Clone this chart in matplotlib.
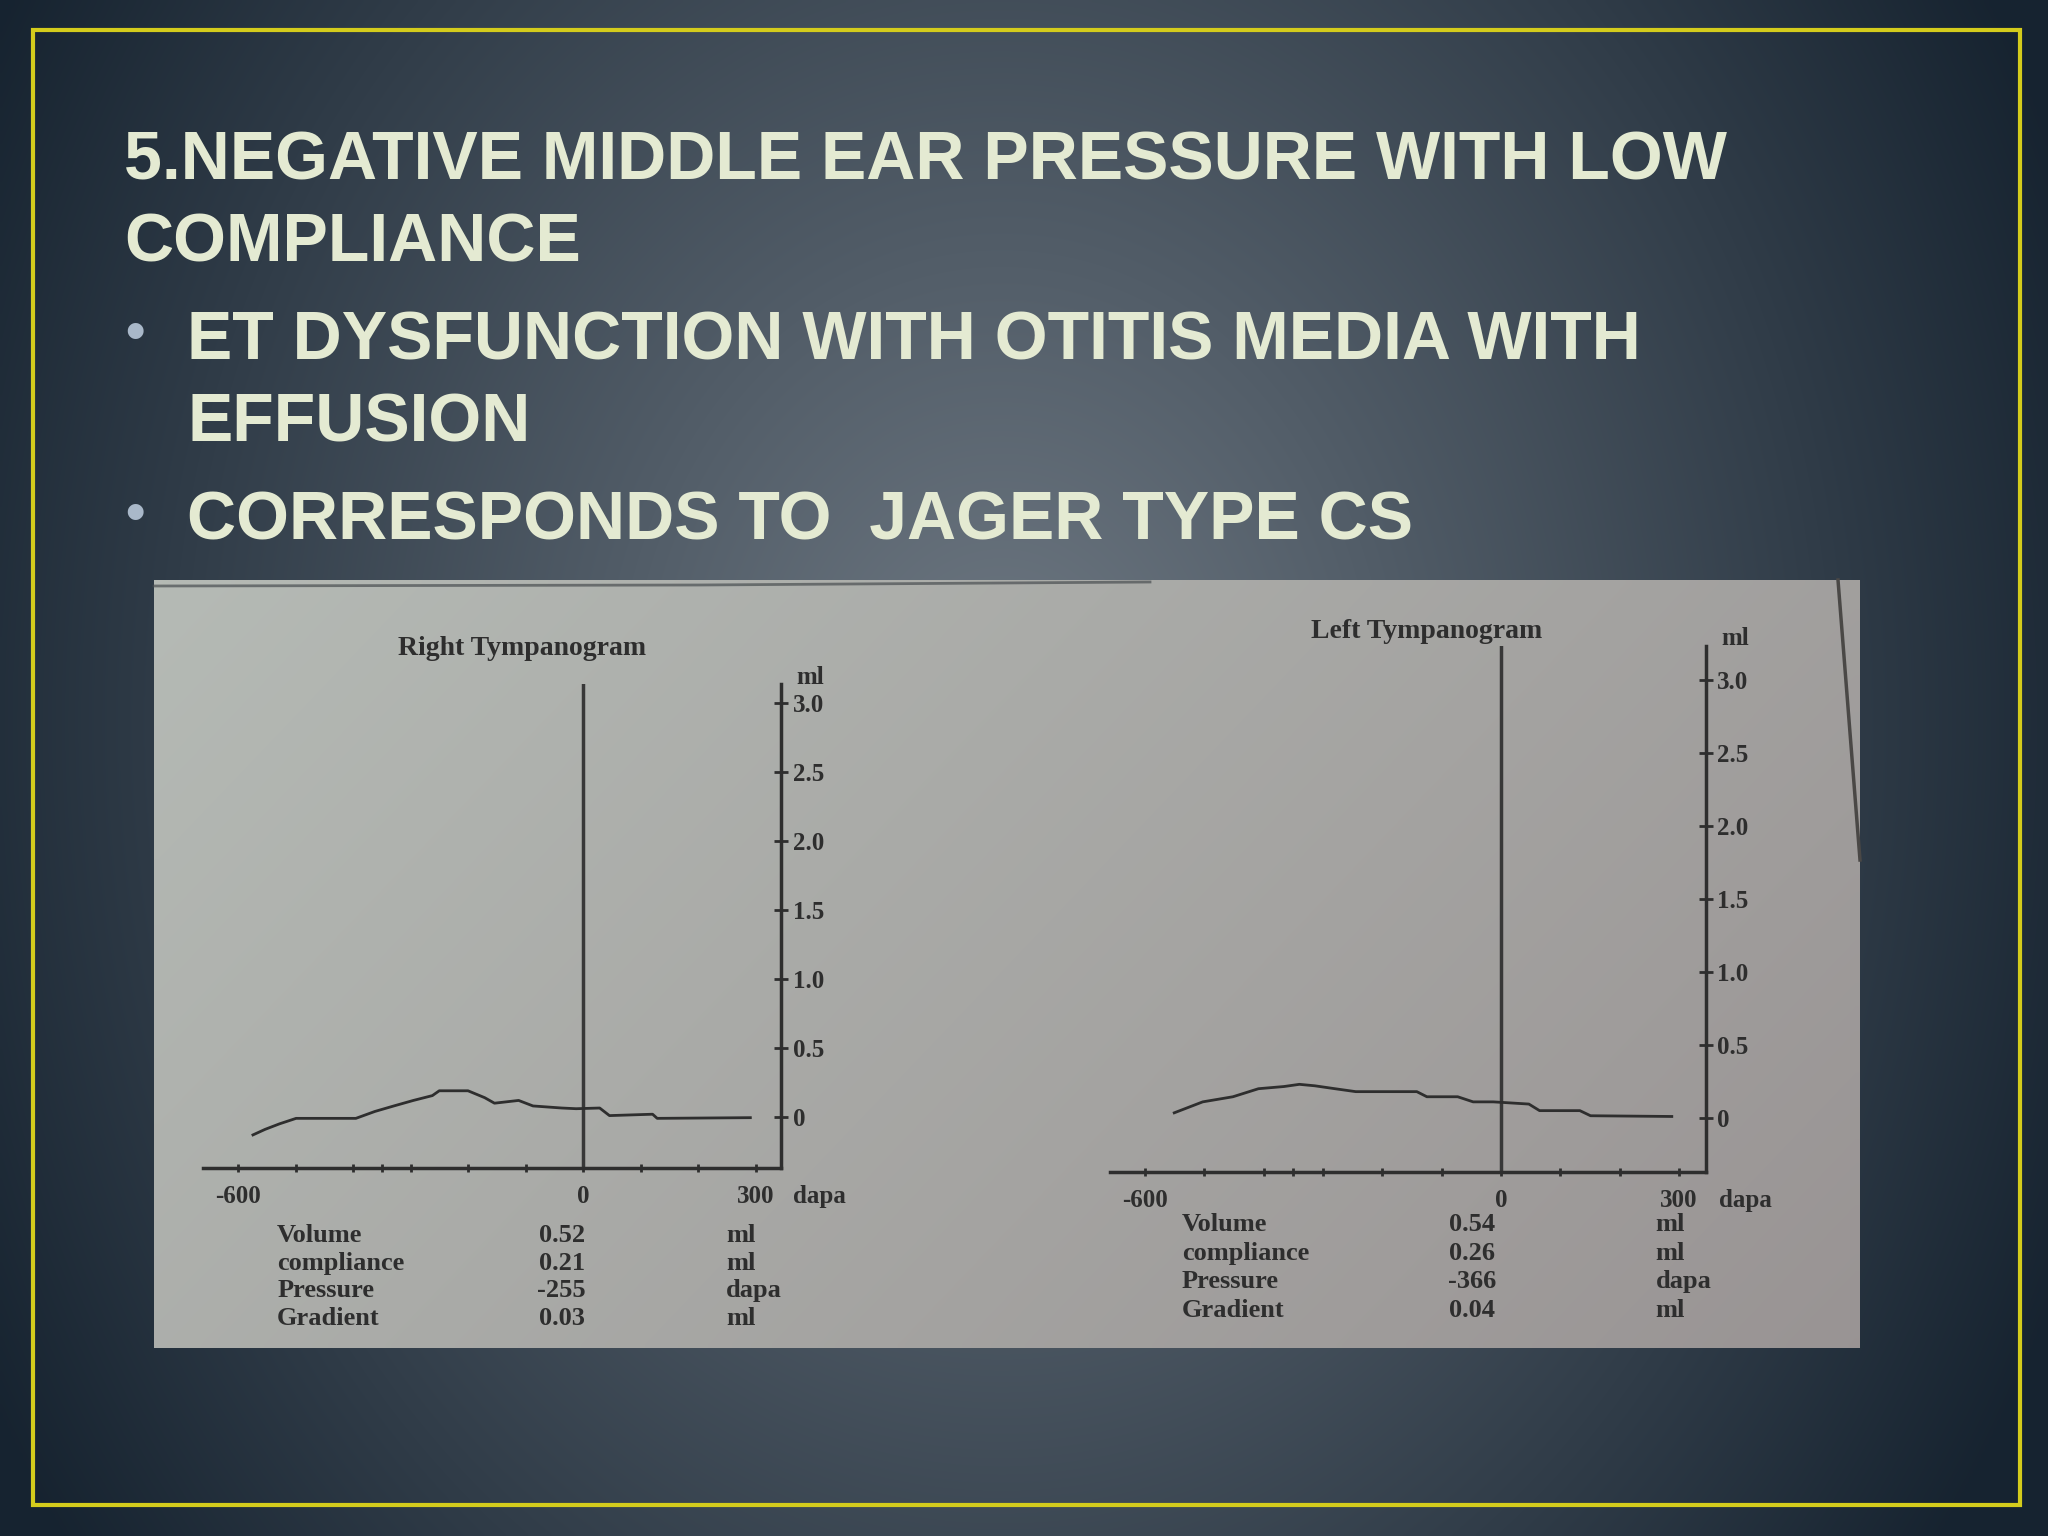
import matplotlib.pyplot as plt
import numpy as np
from matplotlib.patches import Rectangle

W, H = 2048, 1536

# slide text
heading = ["5.NEGATIVE MIDDLE EAR PRESSURE WITH LOW", "COMPLIANCE"]
bullets = [["ET DYSFUNCTION WITH OTITIS MEDIA WITH", "EFFUSION"],
           ["CORRESPONDS TO  JAGER TYPE CS"]]

# tympanogram axes
x_ticks = [-600, -500, -400, -350, -300, -200, -100, 0, 100, 200, 300]
x_named = {-600: "-600", 0: "0", 300: "300"}
y_ticks = [0, 0.5, 1.0, 1.5, 2.0, 2.5, 3.0]
y_labels = ["0", "0.5", "1.0", "1.5", "2.0", "2.5", "3.0"]

# traces (pressure daPa, compliance ml)
right_p = [-574, -553, -528, -499, -395, -362, -329, -295, -262, -250, -200,
           -171, -154, -112, -87, -37, -12, 29, 46, 121, 129, 291]
right_c = [-0.13, -0.09, -0.05, -0.01, -0.01, 0.04, 0.08, 0.12, 0.155, 0.19, 0.19,
           0.14, 0.10, 0.12, 0.08, 0.065, 0.06, 0.065, 0.01, 0.02, -0.01, -0.005]
left_p = [-551, -503, -452, -409, -366, -340, -314, -280, -245, -194, -142,
          -125, -73, -47, -13, 47, 65, 133, 151, 288]
left_c = [0.035, 0.11, 0.145, 0.20, 0.215, 0.23, 0.22, 0.20, 0.18, 0.18, 0.18,
          0.145, 0.145, 0.11, 0.11, 0.095, 0.05, 0.05, 0.015, 0.01]

row_names = ["Volume", "compliance", "Pressure", "Gradient"]
row_units = ["ml", "ml", "dapa", "ml"]
right_vals = ["0.52", "0.21", "-255", "0.03"]
left_vals = ["0.54", "0.26", "-366", "0.04"]

plt.rcParams['font.family'] = ['Liberation Serif', 'DejaVu Serif']
plt.rcParams['font.weight'] = 'bold'

fig = plt.figure(figsize=(W / 100, H / 100), dpi=100)

# background
bg = fig.add_axes([0, 0, 1, 1])
bg.axis('off')
yy, xx = np.mgrid[0:H:4, 0:W:4]
t = np.sqrt(((xx - 1000) / 1150.0) ** 2 + ((yy - 720) / 1400.0) ** 2)
t = np.clip(t, 0, 1) ** 1.05
c0 = np.array([0.43, 0.47, 0.51])
c1 = np.array([0.09, 0.14, 0.19])
img = c0 + (c1 - c0) * t[..., None]
bg.imshow(img, extent=[0, W, H, 0], aspect='auto', interpolation='bilinear', zorder=0)

# paper photo
py, px = np.mgrid[0:100, 0:200]
s = px / 199.0 * 0.7 + py / 99.0 * 0.3
p0 = np.array([0.71, 0.73, 0.71])
p1 = np.array([0.60, 0.58, 0.58])
paper = p0 + (p1 - p0) * s[..., None]
bg.imshow(paper, extent=[154, 1860, 1348, 580], aspect='auto', interpolation='bilinear', zorder=1)
bg.plot([154, 700, 1150], [586, 585, 582], color='#4a4f52', lw=2, alpha=0.7, zorder=2)
bg.plot([1838, 1860], [580, 860], color='#4a4846', lw=2.5, zorder=2)
bg.set_xlim(0, W)
bg.set_ylim(H, 0)

bg.add_patch(Rectangle((33, 30), 1987, 1475, fill=False, ec='#d4cc1c', lw=3, zorder=3))

txt_kw = dict(family=['Liberation Sans', 'DejaVu Sans'], weight='bold', color='#e4ead2',
              fontsize=49, va='baseline', ha='left', zorder=4)
bg.text(124, 180, heading[0], **txt_kw)
bg.text(124, 261, heading[1], **txt_kw)
bg.text(187, 359, bullets[0][0], **txt_kw)
bg.text(187, 441, bullets[0][1], **txt_kw)
bg.text(187, 540, bullets[1][0], **txt_kw)
for yb in (335, 516):
    bg.text(135, yb, "\u2022", family=['Liberation Sans'], color='#a9b8c9',
            fontsize=40, ha='center', va='center', zorder=4)

ink = '#2e2e2e'


def px_axes(x0, x1, ytop, ybot):
    return fig.add_axes([x0 / W, 1 - ybot / H, (x1 - x0) / W, (ybot - ytop) / H])


def tympanogram(ax, p, c, title, title_xy, vals, ytop, rows_y, dy, cols):
    ax.set_xlim(-660, 345)
    ax.set_ylim(-0.37, ytop)
    ax.patch.set_alpha(0)
    ax.spines['top'].set_visible(False)
    ax.spines['left'].set_visible(False)
    for sp in ('bottom', 'right'):
        ax.spines[sp].set_color(ink)
        ax.spines[sp].set_linewidth(2.5)
    ax.yaxis.tick_right()
    ax.set_xticks(x_ticks)
    ax.set_xticklabels([x_named.get(v, '') for v in x_ticks])
    ax.set_yticks(y_ticks)
    ax.set_yticklabels(y_labels)
    ax.tick_params(axis='x', direction='inout', length=6, width=2, colors=ink,
                   labelsize=18, pad=9)
    ax.tick_params(axis='y', direction='inout', length=10, width=2, colors=ink,
                   labelsize=18, pad=3)
    ax.axvline(0, color='#383838', lw=2.5)
    ax.plot(p, c, color=ink, lw=2)
    ax.annotate('dapa', xy=(412, 0), xycoords=ax.get_xaxis_transform(),
                xytext=(0, -12), textcoords='offset points', ha='center', va='top',
                fontsize=18, color=ink, annotation_clip=False)
    ax.text(395, ytop + 0.05, 'ml', fontsize=18, color=ink, ha='center',
            va='center', clip_on=False)
    ax.text(title_xy[0], title_xy[1], title, fontsize=20, color=ink,
            ha='center', va='center', clip_on=False)
    for i in range(len(row_names)):
        yr = rows_y - i * dy
        ax.text(cols[0], yr, row_names[i], fontsize=19, color=ink, ha='left',
                va='center', clip_on=False)
        ax.text(cols[1], yr, vals[i], fontsize=19, color=ink, ha='center',
                va='center', clip_on=False)
        ax.text(cols[2], yr, row_units[i], fontsize=19, color=ink, ha='left',
                va='center', clip_on=False)


ax_r = px_axes(203.5, 781.4, 684, 1168)
tympanogram(ax_r, right_p, right_c, 'Right Tympanogram', (-106, 3.40), right_vals,
            3.14, -0.86, 0.20, (-532, -37, 249))

ax_l = px_axes(1109.6, 1705.6, 646, 1172)
tympanogram(ax_l, left_p, left_c, 'Left Tympanogram', (-125, 3.33), left_vals,
            3.23, -0.73, 0.195, (-538, -49, 261))

fig.savefig('out.png', dpi=100)
